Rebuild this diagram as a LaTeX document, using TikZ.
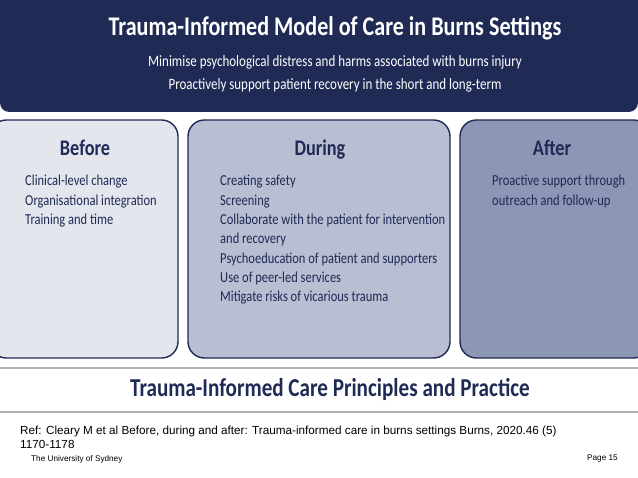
\documentclass[tikz,border=0pt]{standalone}
\usepackage{fontspec}
\setmainfont[FakeStretch=0.82]{Carlito}
\newfontfamily\arialfont{Liberation Sans}
\definecolor{navy}{HTML}{1F2A55}
\definecolor{beforefill}{HTML}{E4E6EE}
\definecolor{duringfill}{HTML}{B9BED2}
\definecolor{afterfill}{HTML}{8E96B6}
\tikzset{
  phase/.style={draw=navy, line width=1.2pt, rounded corners=14},
  heading/.style={font=\fontsize{19}{20}\selectfont\bfseries, text=navy, anchor=base},
  body/.style={font=\fontsize{13}{16.5}\selectfont, text=navy, align=left, anchor=north west, inner sep=0pt}
}
\begin{document}
\begin{tikzpicture}[x=0.03cm,y=-0.03cm]
\useasboundingbox (0,0) rectangle (638,478);

% banner
\fill[navy, rounded corners=8] (0,-10) rectangle (638,112);
\node[text=white, font=\fontsize{23}{24}\selectfont\bfseries] (title) at (335,28) {Trauma-Informed Model of Care in Burns Settings};
\node[text=white, font=\fontsize{13.5}{15}\selectfont] (aim1) at (335,62) {Minimise psychological distress and harms associated with burns injury};
\node[text=white, font=\fontsize{13.5}{15}\selectfont] (aim2) at (335,85) {Proactively support patient recovery in the short and long-term};

% phases
\draw[phase, fill=beforefill] (-10,120) rectangle (178,358);
\draw[phase, fill=duringfill] (188,120) rectangle (450,358);
\draw[phase, fill=afterfill] (460,120) rectangle (650,358);

\node[heading] (before) at (85,156) {Before};
\node[heading] (during) at (320,156) {During};
\node[heading] (after) at (552,156) {After};

\node[body] (beforetext) at (25,175) {Clinical-level change\\Organisational integration\\Training and time};
\node[body] (duringtext) at (220,175) {Creating safety\\Screening\\Collaborate with the patient for intervention\\and recovery\\Psychoeducation of patient and supporters\\Use of peer-led services\\Mitigate risks of vicarious trauma};
\node[body] (aftertext) at (492,175) {Proactive support through\\outreach and follow-up};

% principles band
\draw[gray!60, line width=1pt] (0,368) -- (638,368);
\draw[gray!60, line width=1pt] (0,412) -- (638,412);
\node[text=navy, font=\fontsize{22}{24}\selectfont\bfseries] (principles) at (330,389) {Trauma-Informed Care Principles and Practice};

% footer
\node[font=\arialfont\fontsize{10}{12}\selectfont, align=left, anchor=north west, inner sep=0pt] (ref) at (20,426)
  {Ref: Cleary M et al Before, during and after: Trauma-informed care in burns settings Burns, 2020.46 (5)\\1170-1178};
\node[font=\arialfont\fontsize{7}{8}\selectfont, anchor=west, inner sep=0pt] (uni) at (31,459) {The University of Sydney};
\node[font=\arialfont\fontsize{7}{8}\selectfont, anchor=east, inner sep=0pt] (page) at (618,459) {Page 15};
\end{tikzpicture}
\end{document}
